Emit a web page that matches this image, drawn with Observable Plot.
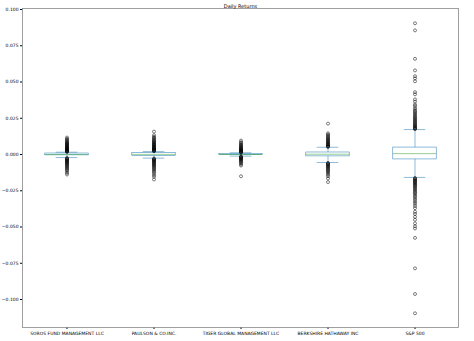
<!DOCTYPE html>
<html>
<head>
<meta charset="utf-8">
<script src="https://cdn.jsdelivr.net/npm/d3@7"></script>
<script src="https://cdn.jsdelivr.net/npm/@observablehq/plot@0.6"></script>
<style>
  html, body { margin: 0; padding: 0; background: #fff; }
</style>
</head>
<body>
<div id="chart"></div>
<script>
const categories = ["SOROS FUND MANAGEMENT LLC", "PAULSON & CO.INC.", "TIGER GLOBAL MANAGEMENT LLC", "BERKSHIRE HATHAWAY INC", "S&P 500"];
const q1 = [-0.0006, -0.0009, -0.0003, -0.0013, -0.0034];
const median = [0.0000, 0.0001, 0.0000, 0.0002, 0.0006];
const q3 = [0.0007, 0.0010, 0.0004, 0.0014, 0.0048];
const whiskerLow = [-0.0021, -0.0025, -0.0011, -0.0055, -0.0158];
const whiskerHigh = [0.0016, 0.0020, 0.0012, 0.0050, 0.0172];
const yTicks = [-0.100, -0.075, -0.050, -0.025, 0.000, 0.025, 0.050, 0.075, 0.100];

const sorosOutliers = [0.0117, 0.0108, 0.0101, 0.0095, 0.0089, 0.0084, 0.0079, 0.0075, 0.0071, 0.0067, 0.0063, 0.0059, 0.0055, 0.0052, 0.0048, 0.0045, 0.0042, 0.0039, 0.0036, 0.0033, 0.0030, 0.0027, 0.0025, 0.0022, 0.0020, 0.0018,
  -0.0024, -0.0027, -0.0031, -0.0035, -0.0039, -0.0043, -0.0047, -0.0051, -0.0056, -0.0060, -0.0065, -0.0070, -0.0075, -0.0081, -0.0087, -0.0093, -0.0100, -0.0108, -0.0116, -0.0127, -0.0138];
const paulsonOutliers = [0.0158, 0.0133, 0.0122, 0.0115, 0.0108, 0.0101, 0.0095, 0.0090, 0.0085, 0.0080, 0.0075, 0.0071, 0.0067, 0.0063, 0.0059, 0.0055, 0.0051, 0.0047, 0.0044, 0.0040, 0.0037, 0.0034, 0.0031, 0.0028, 0.0025, 0.0022,
  -0.0028, -0.0031, -0.0035, -0.0039, -0.0043, -0.0047, -0.0052, -0.0057, -0.0062, -0.0067, -0.0072, -0.0078, -0.0084, -0.0090, -0.0097, -0.0104, -0.0112, -0.0120, -0.0130, -0.0142, -0.0153, -0.0172];
const tigerOutliers = [0.0096, 0.0085, 0.0078, 0.0071, 0.0065, 0.0059, 0.0054, 0.0049, 0.0045, 0.0041, 0.0037, 0.0033, 0.0030, 0.0027, 0.0024, 0.0021, 0.0018, 0.0015, 0.0013,
  -0.0013, -0.0016, -0.0019, -0.0022, -0.0025, -0.0029, -0.0033, -0.0037, -0.0042, -0.0047, -0.0053, -0.0060, -0.0068, -0.0076, -0.0150];
const berkshireOutliers = [0.0213, 0.0146, 0.0138, 0.0131, 0.0124, 0.0118, 0.0112, 0.0106, 0.0100, 0.0095, 0.0090, 0.0085, 0.0080, 0.0075, 0.0071, 0.0067, 0.0063, 0.0059, 0.0055, 0.0052,
  -0.0058, -0.0062, -0.0066, -0.0070, -0.0075, -0.0080, -0.0085, -0.0090, -0.0096, -0.0102, -0.0108, -0.0115, -0.0122, -0.0130, -0.0140, -0.0150, -0.0165, -0.0190];
const sp500Outliers = [0.0905, 0.0856, 0.0660, 0.0580, 0.0540, 0.0525, 0.0505, 0.0430, 0.0415, 0.0380, 0.0365, 0.0345, 0.0335, 0.0320, 0.0310, 0.0300, 0.0292, 0.0284, 0.0276, 0.0268, 0.0260, 0.0253, 0.0246, 0.0239, 0.0232, 0.0226, 0.0220, 0.0214, 0.0208, 0.0202, 0.0197, 0.0192, 0.0187, 0.0182, 0.0178, 0.0175,
  -0.0162, -0.0166, -0.0171, -0.0176, -0.0181, -0.0186, -0.0191, -0.0197, -0.0203, -0.0209, -0.0215, -0.0221, -0.0228, -0.0235, -0.0242, -0.0250, -0.0258, -0.0266, -0.0275, -0.0284, -0.0294, -0.0305, -0.0316, -0.0328, -0.0340, -0.0355, -0.0370, -0.0395, -0.0410, -0.0430, -0.0450, -0.0475, -0.0495, -0.0510, -0.0575, -0.0785, -0.0962, -0.1095];

const stats = categories.map((c, i) => ({
  name: c, q1: q1[i], median: median[i], q3: q3[i], lo: whiskerLow[i], hi: whiskerHigh[i]
}));
const outlierLists = [sorosOutliers, paulsonOutliers, tigerOutliers, berkshireOutliers, sp500Outliers];
const outliers = outlierLists.flatMap((arr, i) => arr.map(v => ({name: categories[i], value: v})));

const W = 474, H = 341;
const mL = 22, mR = 16, mT = 8, mB = 14;
const band = (W - mL - mR) / categories.length;
const boxInset = band * 0.25;
const capInset = band * 0.375;
const C0 = "#1f77b4", C2 = "#2ca02c";

const chart = Plot.plot({
  width: W,
  height: H,
  marginLeft: mL,
  marginRight: mR,
  marginTop: mT,
  marginBottom: mB,
  style: {fontFamily: "'DejaVu Sans', sans-serif", fontSize: "4.5px", background: "#fff", color: "#000"},
  x: {domain: categories, padding: 0, tickSize: 2, tickPadding: 2, label: null},
  y: {domain: [-0.1193, 0.1007], ticks: yTicks, tickFormat: d3.format(".3f"), tickSize: 2, tickPadding: 2, label: null},
  marks: [
    Plot.frame({stroke: "#888", strokeWidth: 0.8}),
    Plot.ruleX(stats, {x: "name", y1: "q3", y2: "hi", stroke: C0, strokeWidth: 0.5}),
    Plot.ruleX(stats, {x: "name", y1: "q1", y2: "lo", stroke: C0, strokeWidth: 0.5}),
    Plot.tickY(stats, {x: "name", y: "hi", stroke: C0, strokeWidth: 0.5, insetLeft: capInset, insetRight: capInset}),
    Plot.tickY(stats, {x: "name", y: "lo", stroke: C0, strokeWidth: 0.5, insetLeft: capInset, insetRight: capInset}),
    Plot.barY(stats, {x: "name", y1: "q1", y2: "q3", fill: "none", stroke: C0, strokeWidth: 0.5, insetLeft: boxInset, insetRight: boxInset}),
    Plot.tickY(stats, {x: "name", y: "median", stroke: C2, strokeWidth: 0.5, insetLeft: boxInset, insetRight: boxInset}),
    Plot.dot(outliers, {x: "name", y: "value", r: 1.5, fill: "none", stroke: "#000", strokeWidth: 0.5}),
    Plot.text(["Daily Returns"], {frameAnchor: "top", dy: -4, fontSize: 5, fill: "#000"})
  ]
});
document.getElementById("chart").appendChild(chart);
</script>
</body>
</html>
